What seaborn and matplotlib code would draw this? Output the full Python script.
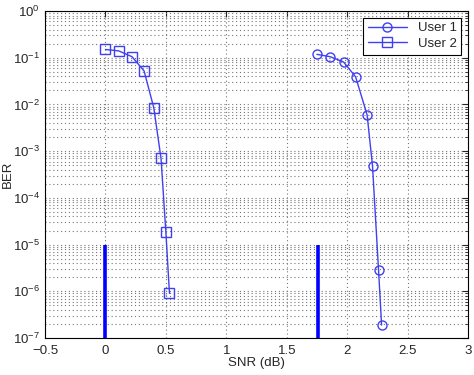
import numpy as np
import pandas as pd
import seaborn as sns
import matplotlib.pyplot as plt
from matplotlib.ticker import LogLocator, NullFormatter, MultipleLocator

# dati
snr_user1 = [1.75, 1.86, 1.97, 2.07, 2.165, 2.21, 2.26, 2.285]
ber_user1 = [0.118, 0.105, 0.081, 0.039, 0.006, 4.8e-4, 2.8e-6, 1.9e-7]
snr_user2 = [0.0, 0.11, 0.22, 0.32, 0.40, 0.46, 0.50, 0.53]
ber_user2 = [0.15, 0.14, 0.105, 0.052, 0.0085, 7e-4, 1.85e-5, 9e-7]
soglie_snr = [0.0, 1.76]
soglia_ber = 1e-5

df = pd.concat([
    pd.DataFrame({'SNR': snr_user1, 'BER': ber_user1, 'Utente': 'User 1'}),
    pd.DataFrame({'SNR': snr_user2, 'BER': ber_user2, 'Utente': 'User 2'}),
])

sns.set_style("white")
plt.rcParams['font.family'] = ['Liberation Sans', 'DejaVu Sans']

fig = plt.figure(figsize=(4.74, 3.75), dpi=100)
ax = fig.add_axes([45 / 474, 1 - 338 / 375, 423 / 474, 327 / 375])

colore = '#4040f0'
marcatori = {'User 1': 'o', 'User 2': 's'}
for utente, gruppo in df.groupby('Utente'):
    sns.lineplot(data=gruppo, x='SNR', y='BER', ax=ax, color=colore, lw=1,
                 marker=marcatori[utente], markersize=6.5, markerfacecolor='none',
                 markeredgecolor=colore, markeredgewidth=1, label=utente,
                 sort=False, estimator=None)

# barre verticali blu
ax.vlines(soglie_snr, 1e-7, soglia_ber, colors='#0000ff', lw=2.6)

ax.set_yscale('log')
ax.set_xlim(-0.5, 3)
ax.set_ylim(1e-7, 1)
ax.xaxis.set_major_locator(MultipleLocator(0.5))
ax.yaxis.set_major_locator(LogLocator(base=10, numticks=10))
ax.yaxis.set_minor_locator(LogLocator(base=10, subs=np.arange(2, 10), numticks=100))
ax.yaxis.set_minor_formatter(NullFormatter())
ax.set_xticks([-0.5, 0, 0.5, 1, 1.5, 2, 2.5, 3])
ax.set_xticklabels(['\u22120.5', '0', '0.5', '1', '1.5', '2', '2.5', '3'])

griglia = dict(color='#777777', linestyle=(0, (1, 2.5)), lw=0.8)
ax.grid(True, which='major', **griglia)
ax.grid(True, which='minor', axis='y', **griglia)
ax.tick_params(which='both', direction='in', top=True, right=True, labelsize=9.5)
ax.tick_params(which='major', length=4)
ax.tick_params(which='minor', length=2)
ax.tick_params(axis='x', pad=5)
for s in ax.spines.values():
    s.set_color('black')
    s.set_linewidth(0.8)

ax.set_xlabel('SNR (dB)', fontsize=9.5, labelpad=0)
ax.set_ylabel('BER', fontsize=9.5)
ax.yaxis.set_label_coords(-0.074, 0.5)

leg = ax.legend(loc='upper right', fontsize=9.5, fancybox=False, framealpha=1,
                edgecolor='black', borderaxespad=0.5, handlelength=3,
                labelspacing=0.25, borderpad=0.35)
leg.get_frame().set_linewidth(0.8)

plt.savefig('out.png', dpi=100)
